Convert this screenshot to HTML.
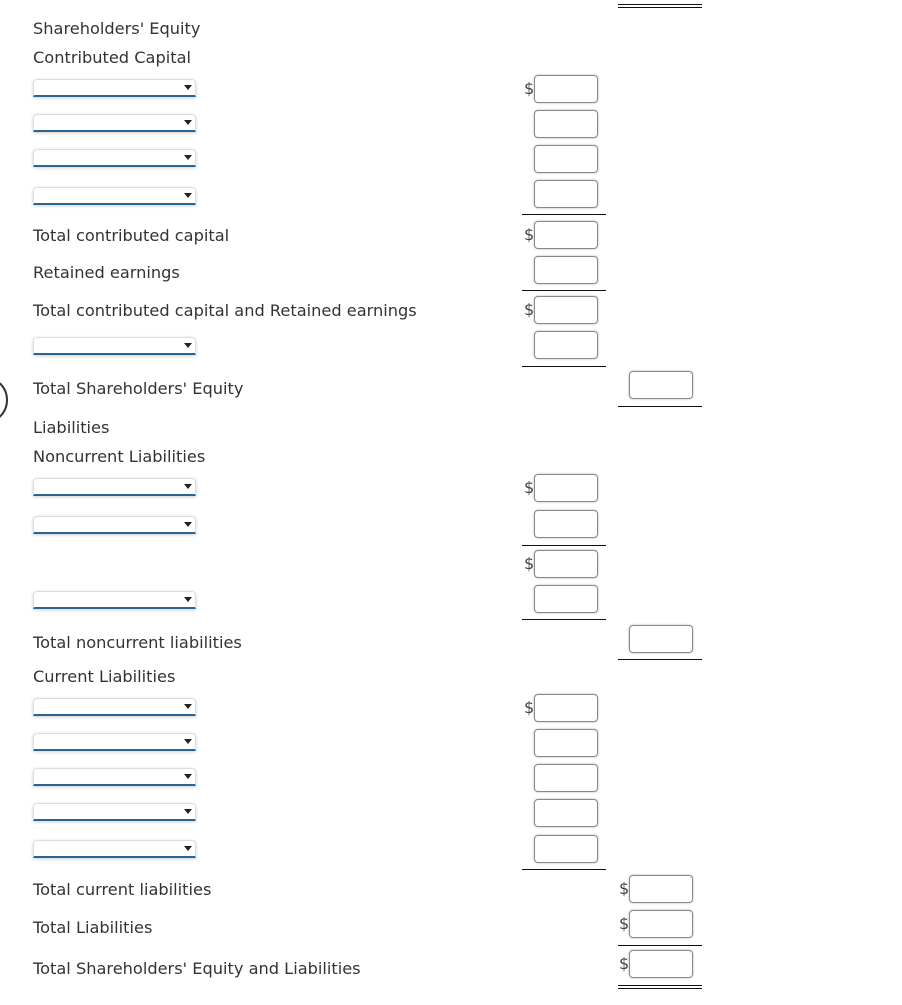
<!DOCTYPE html>
<html><head><meta charset="utf-8"><style>
body{margin:0;width:902px;height:1005px;background:#fff;position:relative;overflow:hidden;font-family:"DejaVu Sans","Liberation Sans",sans-serif;color:#333}
.t{position:absolute;left:33px;font-size:16.2px;line-height:20px;white-space:nowrap}
.dd{position:absolute;left:33px;width:161px;height:15px;border:1px solid #ddd;border-bottom:2px solid #2a6496;border-radius:4px 4px 0 0;box-shadow:0 1px 3px rgba(0,0,0,.2)}
.dd:after{content:"";position:absolute;right:3px;top:5px;border-left:4px solid transparent;border-right:4px solid transparent;border-top:5px solid #222}
.b{position:absolute;width:62px;height:26px;border:1px solid #888;border-radius:4px;box-shadow:0 0 2px rgba(0,0,0,.3)}
.c1{left:534px}.c2{left:629px}
.d{position:absolute;font-size:16px;line-height:20px;color:#444}
.l{position:absolute;height:1px;background:#111}
.l1{left:522px;width:84px}.l2{left:618px;width:84px}
</style></head><body>
<div class="l l2" style="top:4px"></div><div class="l l2" style="top:7px"></div>
<div class="t" style="top:19px">Shareholders' Equity</div>
<div class="t" style="top:48px">Contributed Capital</div>
<div class="dd" style="top:79px"></div>
<div class="dd" style="top:114px"></div>
<div class="dd" style="top:149px"></div>
<div class="dd" style="top:187px"></div>
<div class="d" style="left:524px;top:79px">$</div><div class="b c1" style="top:75px"></div>
<div class="b c1" style="top:110px"></div>
<div class="b c1" style="top:145px"></div>
<div class="b c1" style="top:180px"></div>
<div class="l l1" style="top:214px"></div>
<div class="t" style="top:226px">Total contributed capital</div>
<div class="d" style="left:524px;top:225px">$</div><div class="b c1" style="top:221px"></div>
<div class="t" style="top:263px">Retained earnings</div>
<div class="b c1" style="top:256px"></div>
<div class="l l1" style="top:290px"></div>
<div class="t" style="top:301px">Total contributed capital and Retained earnings</div>
<div class="d" style="left:524px;top:300px">$</div><div class="b c1" style="top:296px"></div>
<div class="dd" style="top:337px"></div>
<div class="b c1" style="top:331px"></div>
<div class="l l1" style="top:366px"></div>
<div style="position:absolute;left:-40px;top:376px;width:44px;height:44px;border:2.5px solid #333;border-radius:50%"></div>
<div class="t" style="top:379px">Total Shareholders' Equity</div>
<div class="b c2" style="top:371px"></div>
<div class="l l2" style="top:406px"></div>
<div class="t" style="top:418px">Liabilities</div>
<div class="t" style="top:447px">Noncurrent Liabilities</div>
<div class="dd" style="top:478px"></div>
<div class="dd" style="top:516px"></div>
<div class="d" style="left:524px;top:478px">$</div><div class="b c1" style="top:474px"></div>
<div class="b c1" style="top:510px"></div>
<div class="l l1" style="top:545px"></div>
<div class="d" style="left:524px;top:554px">$</div><div class="b c1" style="top:550px"></div>
<div class="dd" style="top:591px"></div>
<div class="b c1" style="top:585px"></div>
<div class="l l1" style="top:619px"></div>
<div class="t" style="top:633px">Total noncurrent liabilities</div>
<div class="b c2" style="top:625px"></div>
<div class="l l2" style="top:659px"></div>
<div class="t" style="top:667px">Current Liabilities</div>
<div class="dd" style="top:698px"></div>
<div class="dd" style="top:733px"></div>
<div class="dd" style="top:768px"></div>
<div class="dd" style="top:803px"></div>
<div class="dd" style="top:840px"></div>
<div class="d" style="left:524px;top:698px">$</div><div class="b c1" style="top:694px"></div>
<div class="b c1" style="top:729px"></div>
<div class="b c1" style="top:764px"></div>
<div class="b c1" style="top:799px"></div>
<div class="b c1" style="top:835px"></div>
<div class="l l1" style="top:869px"></div>
<div class="t" style="top:880px">Total current liabilities</div>
<div class="d" style="left:619px;top:879px">$</div><div class="b c2" style="top:875px"></div>
<div class="t" style="top:918px">Total Liabilities</div>
<div class="d" style="left:619px;top:914px">$</div><div class="b c2" style="top:910px"></div>
<div class="l l2" style="top:945px"></div>
<div class="t" style="top:959px">Total Shareholders' Equity and Liabilities</div>
<div class="d" style="left:619px;top:954px">$</div><div class="b c2" style="top:950px"></div>
<div class="l l2" style="top:985px"></div><div class="l l2" style="top:988px"></div>
</body></html>
